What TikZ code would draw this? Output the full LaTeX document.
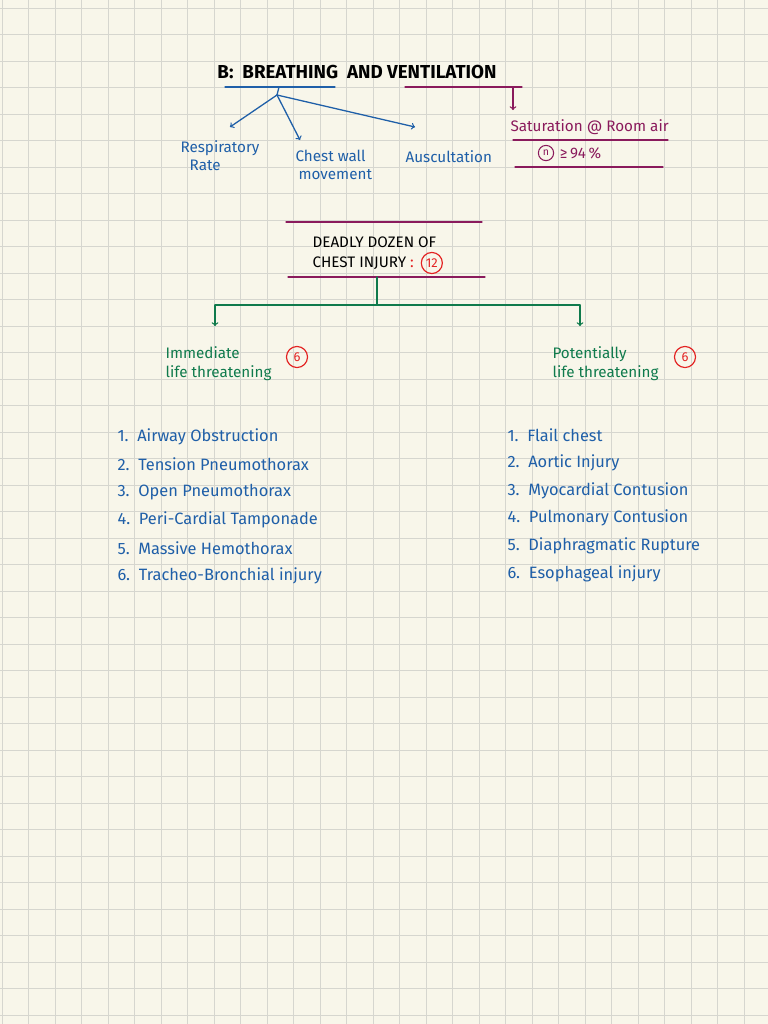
\documentclass[tikz,border=0pt]{standalone}
\usepackage{fontspec}
\setmainfont{Fira Sans}
\usetikzlibrary{positioning}
\definecolor{paper}{HTML}{F8F6EA}
\definecolor{gridc}{HTML}{D6D6CF}
\definecolor{pen}{HTML}{1F5FA8}
\definecolor{plum}{HTML}{8A1A5C}
\definecolor{leaf}{HTML}{0F7A4C}
\definecolor{mark}{HTML}{E32222}
\tikzset{
  bluetxt/.style={text=pen,font=\fontsize{13}{15}\selectfont,align=left},
  listtxt/.style={text=pen,font=\fontsize{14}{16}\selectfont,anchor=west},
  circnum/.style={circle,draw=mark,text=mark,line width=1pt,inner sep=1pt,minimum size=18pt,font=\fontsize{11}{11}\selectfont},
}
\begin{document}
\begin{tikzpicture}[x=0.03cm,y=-0.03cm,line width=1.1pt,line cap=round]
	\fill[paper] (0,0) rectangle (768,1024);
	\useasboundingbox (0,0) rectangle (768,1024);
	\foreach \i in {0,...,29} {
		\draw[gridc,line width=0.5pt] (2+26.5*\i,0) -- (2+26.5*\i,1024);
	}
	\foreach \j in {0,...,38} {
		\draw[gridc,line width=0.5pt] (0,8+26.5*\j) -- (768,8+26.5*\j);
	}
	% title
	\node[font=\fontsize{16}{18}\selectfont\bfseries] (title) at (357,72) {B:\ \ BREATHING\ \ AND VENTILATION};
	\coordinate (ubl) at (225,87); \coordinate (ubr) at (335,87);
	\coordinate (upl) at (405,87); \coordinate (upr) at (522,87);
	\draw[pen] (ubl) -- (ubr);
	\draw[plum] (upl) -- (upr);
	% breathing branches
	\coordinate (fork) at (277,95);
	\draw[pen] (279,87) -- (fork);
	\node[bluetxt,anchor=north west] (rr) at (176,136) {Respiratory\\\hspace*{0.6em}Rate};
	\node[bluetxt,anchor=north west] (cw) at (291,146) {Chest wall\\\hspace*{0.2em}movement};
	\node[bluetxt,anchor=west] (aus) at (401,157) {Auscultation};
	\draw[pen,->] (fork) -- (230,127);
	\draw[pen,->] (fork) -- (300,140);
	\draw[pen,->] (fork) -- (415,127);
	% saturation
	\node[text=plum,font=\fontsize{13}{15}\selectfont,anchor=west] (sat) at (506,127) {Saturation @ Room air};
	\draw[plum,->] (513,88) -- (513,110);
	\draw[plum] (513,140) -- (668,140);
	\node[circle,draw=plum,text=plum,line width=0.9pt,inner sep=0pt,minimum size=13pt,font=\fontsize{9}{9}\selectfont] (nn) at (546,153) {n};
	\node[text=plum,font=\fontsize{13}{15}\selectfont,anchor=west,right=1pt of nn] (spo) {≥\,94\,\%};
	\draw[plum] (515,167) -- (663,167);
	% deadly dozen
	\draw[plum] (286,222) -- (482,222);
	\node[font=\fontsize{13}{15}\selectfont,anchor=west] (dd) at (308,242) {DEADLY DOZEN OF};
	\node[font=\fontsize{13}{15}\selectfont,anchor=west] (ci) at (308,263) {CHEST INJURY \textcolor{mark}{:}};
	\node[circnum,right=2pt of ci] (twelve) {12};
	\coordinate (ddb) at (377,277);
	\draw[plum] (288,277) -- (485,277);
	% split
	\coordinate (sl) at (215,305); \coordinate (sr) at (580,305);
	\draw[leaf] (ddb) -- (377,305);
	\draw[leaf] (sl) -- (sr);
	\draw[leaf,->] (sl) -- (215,326);
	\draw[leaf,->] (sr) -- (580,326);
	\node[text=leaf,font=\fontsize{13}{16}\selectfont,align=left,anchor=north west] (imm) at (161,342) {Immediate\\life threatening};
	\node[circnum] (six1) at (297,357) {6};
	\node[text=leaf,font=\fontsize{13}{16}\selectfont,align=left,anchor=north west] (pot) at (548,342) {Potentially\\life threatening};
	\node[circnum] (six2) at (685,357) {6};
	% lists
	\foreach \t [count=\k] in {Airway Obstruction,Tension Pneumothorax,Open Pneumothorax,Peri-Cardial Tamponade,Massive Hemothorax,Tracheo-Bronchial injury}
		\node[listtxt] (l\k) at (113,409+27.8*\k) {\k.\ \ \t};
	\foreach \t [count=\k] in {Flail chest,Aortic Injury,Myocardial Contusion,Pulmonary Contusion,Diaphragmatic Rupture,Esophageal injury}
		\node[listtxt] (r\k) at (503,407+27.8*\k) {\k.\ \ \t};
\end{tikzpicture}
\end{document}
